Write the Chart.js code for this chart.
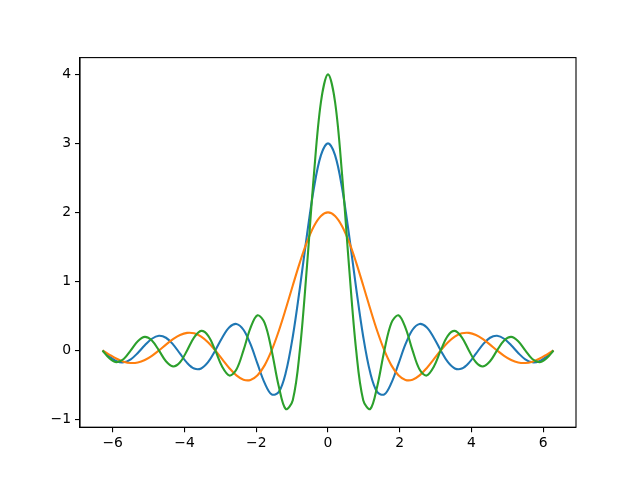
<!DOCTYPE html>
<html>
<head>
<meta charset="utf-8">
<script src="https://cdn.jsdelivr.net/npm/chart.js@4"></script>
<style>
  html, body { margin: 0; padding: 0; background: #ffffff; }
  canvas { display: block; }
</style>
</head>
<body>
<canvas id="plot" width="640" height="480"></canvas>
<script>
// sample positions along x
const xValues = [
  -6.2832, -6.0868, -5.8905, -5.6941, -5.4978, -5.3014, -5.1051, -4.9087,
  -4.7124, -4.5160, -4.3197, -4.1233, -3.9270, -3.7306, -3.5343, -3.3379,
  -3.1416, -2.9452, -2.7489, -2.5525, -2.3562, -2.1598, -1.9635, -1.7671,
  -1.5708, -1.3744, -1.1781, -0.9817, -0.7854, -0.5890, -0.3927, -0.1963,
  0,
  0.1963, 0.3927, 0.5890, 0.7854, 0.9817, 1.1781, 1.3744, 1.5708,
  1.7671, 1.9635, 2.1598, 2.3562, 2.5525, 2.7489, 2.9452, 3.1416,
  3.3379, 3.5343, 3.7306, 3.9270, 4.1233, 4.3197, 4.5160, 4.7124,
  4.9087, 5.1051, 5.3014, 5.4978, 5.6941, 5.8905, 6.0868, 6.2832
];

const blueValues = [
  0, -0.0913, -0.1568, -0.1722, -0.1286, -0.0368, 0.0750, 0.1694,
  0.2122, 0.1841, 0.0886, -0.0473, -0.1801, -0.2629, -0.2614, -0.1664,
  0, 0.1886, 0.3361, 0.3842, 0.3001, 0.0903, -0.1949, -0.4705,
  -0.6366, -0.6050, -0.3248, 0.1987, 0.9003, 1.6650, 2.3526, 2.8295,
  3,
  2.8295, 2.3526, 1.6650, 0.9003, 0.1987, -0.3248, -0.6050, -0.6366,
  -0.4705, -0.1949, 0.0903, 0.3001, 0.3842, 0.3361, 0.1886, 0,
  -0.1664, -0.2614, -0.2629, -0.1801, -0.0473, 0.0886, 0.1841, 0.2122,
  0.1694, 0.0750, -0.0368, -0.1286, -0.1722, -0.1568, -0.0913, 0
];

const orangeValues = [
  0, -0.0629, -0.1200, -0.1623, -0.1819, -0.1743, -0.1385, -0.0780,
  0, 0.0847, 0.1637, 0.2241, 0.2546, 0.2476, 0.2001, 0.1146,
  0, -0.1299, -0.2572, -0.3619, -0.4244, -0.4277, -0.3601, -0.2166,
  0, 0.2784, 0.6002, 0.9411, 1.2732, 1.5684, 1.8006, 1.9490,
  2,
  1.9490, 1.8006, 1.5684, 1.2732, 0.9411, 0.6002, 0.2784, 0,
  -0.2166, -0.3601, -0.4277, -0.4244, -0.3619, -0.2572, -0.1299, 0,
  0.1146, 0.2001, 0.2476, 0.2546, 0.2241, 0.1637, 0.0847, 0,
  -0.0780, -0.1385, -0.1743, -0.1819, -0.1623, -0.1200, -0.0629, 0
];

const greenValues = [
  0, -0.1162, -0.1698, -0.1242, 0, 0.1334, 0.1959, 0.1441,
  0, -0.1566, -0.2315, -0.1715, 0, 0.1895, 0.2829, 0.2118,
  0, -0.2401, -0.3638, -0.2770, 0, 0.3274, 0.5093, 0.4001,
  0, -0.5145, -0.8488, -0.7203, 0, 1.2004, 2.5465, 3.6013,
  4,
  3.6013, 2.5465, 1.2004, 0, -0.7203, -0.8488, -0.5145, 0,
  0.4001, 0.5093, 0.3274, 0, -0.2770, -0.3638, -0.2401, 0,
  0.2118, 0.2829, 0.1895, 0, -0.1715, -0.2315, -0.1566, 0,
  0.1441, 0.1959, 0.1334, 0, -0.1242, -0.1698, -0.1162, 0
];

const xTicks = [-6, -4, -2, 0, 2, 4, 6];
const yTicks = [-1, 0, 1, 2, 3, 4];

function pairUp(ys) {
  return ys.map((y, i) => ({ x: xValues[i], y: y }));
}

function tickText(v) {
  return v < 0 ? '\u2212' + Math.abs(v) : String(v);
}

// matplotlib-like closed frame around the axes
const frame = {
  id: 'frame',
  afterDraw(chart) {
    const a = chart.chartArea;
    const ctx = chart.ctx;
    ctx.save();
    ctx.strokeStyle = '#000000';
    ctx.lineWidth = 1.1;
    ctx.strokeRect(a.left, a.top, a.right - a.left, a.bottom - a.top);
    ctx.restore();
  }
};

const tickFont = { family: 'DejaVu Sans', size: 13.9 };

function line(data, color, order) {
  return {
    data: pairUp(data),
    borderColor: color,
    borderWidth: 2.1,
    pointRadius: 0,
    fill: false,
    tension: 0.35,
    order: order
  };
}

new Chart(document.getElementById('plot'), {
  type: 'line',
  data: {
    datasets: [
      line(blueValues, '#1f77b4', 2),
      line(orangeValues, '#ff7f0e', 1),
      line(greenValues, '#2ca02c', 0)
    ]
  },
  options: {
    responsive: false,
    devicePixelRatio: 1,
    animation: false,
    layout: { padding: { top: 57.6, right: 64, left: 0, bottom: 0 } },
    plugins: { legend: { display: false }, tooltip: { enabled: false } },
    scales: {
      x: {
        type: 'linear',
        min: -6.912,
        max: 6.912,
        afterBuildTicks: s => { s.ticks = xTicks.map(v => ({ value: v })); },
        afterFit: s => { s.height = 52.8; },
        grid: { drawOnChartArea: false, drawTicks: true, tickLength: 5, color: '#000000', lineWidth: 1.1 },
        border: { display: true, color: '#000000', width: 1.1 },
        ticks: { color: '#000000', font: tickFont, padding: 3, maxRotation: 0, callback: tickText }
      },
      y: {
        type: 'linear',
        min: -1.1123,
        max: 4.2434,
        afterBuildTicks: s => { s.ticks = yTicks.map(v => ({ value: v })); },
        afterFit: s => { s.width = 80; },
        grid: { drawOnChartArea: false, drawTicks: true, tickLength: 5, color: '#000000', lineWidth: 1.1 },
        border: { display: true, color: '#000000', width: 1.1 },
        ticks: { color: '#000000', font: tickFont, padding: 4, callback: tickText }
      }
    }
  },
  plugins: [frame]
});
</script>
</body>
</html>
